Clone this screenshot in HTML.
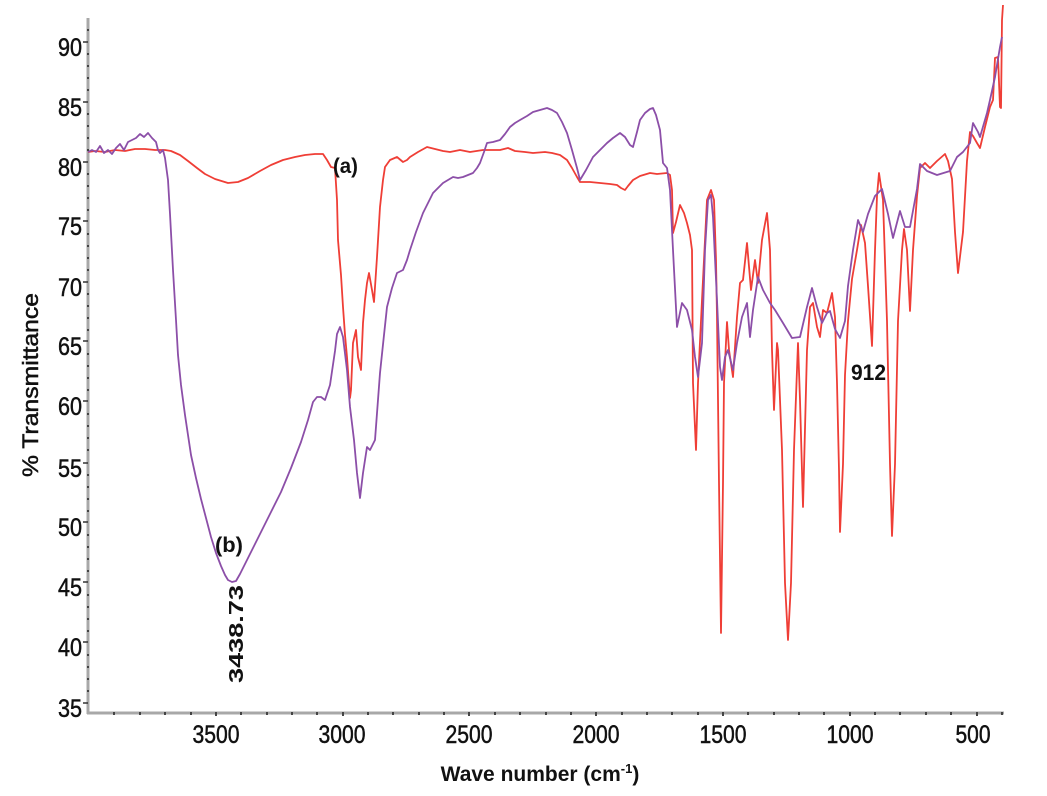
<!DOCTYPE html>
<html><head><meta charset="utf-8"><style>
html,body{margin:0;padding:0;background:#fff;}
svg{display:block;}
text{font-family:"Liberation Sans",Arial,sans-serif;fill:#111;}
.tk{stroke:#111;stroke-width:0.5;}
</style></head><body>
<svg width="1047" height="796" viewBox="0 0 1047 796" xmlns="http://www.w3.org/2000/svg">
<rect width="1047" height="796" fill="#fff"/>
<!-- axes -->
<line x1="88" y1="18" x2="88" y2="714" stroke="#a8a8a8" stroke-width="3"/>
<line x1="87" y1="713" x2="1004" y2="713" stroke="#a8a8a8" stroke-width="3"/>
<!-- y tick labels -->
<g font-size="25" text-anchor="end" class="tk">
<text x="82" y="56" textLength="24" lengthAdjust="spacingAndGlyphs">90</text>
<text x="82" y="116" textLength="24" lengthAdjust="spacingAndGlyphs">85</text>
<text x="82" y="176" textLength="24" lengthAdjust="spacingAndGlyphs">80</text>
<text x="82" y="235" textLength="24" lengthAdjust="spacingAndGlyphs">75</text>
<text x="82" y="296" textLength="24" lengthAdjust="spacingAndGlyphs">70</text>
<text x="82" y="355" textLength="24" lengthAdjust="spacingAndGlyphs">65</text>
<text x="82" y="415" textLength="24" lengthAdjust="spacingAndGlyphs">60</text>
<text x="82" y="477" textLength="24" lengthAdjust="spacingAndGlyphs">55</text>
<text x="82" y="536" textLength="24" lengthAdjust="spacingAndGlyphs">50</text>
<text x="82" y="596" textLength="24" lengthAdjust="spacingAndGlyphs">45</text>
<text x="82" y="656" textLength="24" lengthAdjust="spacingAndGlyphs">40</text>
<text x="82" y="717" textLength="24" lengthAdjust="spacingAndGlyphs">35</text>
</g>
<!-- x tick labels -->
<g font-size="25" text-anchor="middle" class="tk">
<text x="216" y="743" textLength="47" lengthAdjust="spacingAndGlyphs">3500</text>
<text x="342" y="743" textLength="47" lengthAdjust="spacingAndGlyphs">3000</text>
<text x="469" y="743" textLength="47" lengthAdjust="spacingAndGlyphs">2500</text>
<text x="596" y="743" textLength="47" lengthAdjust="spacingAndGlyphs">2000</text>
<text x="723" y="743" textLength="47" lengthAdjust="spacingAndGlyphs">1500</text>
<text x="850" y="743" textLength="47" lengthAdjust="spacingAndGlyphs">1000</text>
<text x="973" y="743" textLength="35" lengthAdjust="spacingAndGlyphs">500</text>
</g>
<!-- axis titles -->
<text x="540" y="781" font-size="21" font-weight="bold" text-anchor="middle" fill="#222">Wave number (cm<tspan font-size="13" dy="-8">-1</tspan><tspan dy="8">)</tspan></text>
<text transform="translate(38,385) rotate(-90)" font-size="22" text-anchor="middle" textLength="184" lengthAdjust="spacingAndGlyphs" class="tk">% Transmittance</text>

<!-- red series (a) -->
<polyline fill="none" stroke="#ef3e36" stroke-width="1.8" stroke-linejoin="round" points="88,152 95,151 105,152 115,150 125,151 135,149 145,149 155,150 165,150 171,151 180,155 188,161 197,168 205,174 215,179 228,183 238,182 248,178 260,171 271,165 283,160 295,157 305,155 315,154 323,154 327,160 331,167 335,168 337,200 338,240 341,275 343,307 345,335 347,357 349,385 350,398 351,390 353,343 356,330 358,357 361,370 363,323 365,300 367,283 369,273 372,290 374,302 377,257 380,207 383,180 385,167 390,160 397,157 403,162 407,160 410,157 418,152 427,147 435,149 443,151 450,152 460,150 470,152 483,150 490,150 500,150 508,148 515,151 525,152 533,153 545,152 552,153 560,155 567,160 572,168 577,177 580,182 590,182 600,183 610,184 617,185 621,188 625,190 628,186 633,180 640,176 650,173 657,174 667,173 670,175 672,190 673,233 676,222 680,205 684,213 687,223 690,235 692,250 693,383 696,450 698,383 702,300 705,240 707,200 711,190 714,200 716,260 717,317 719,483 721,633 723,483 724,383 727,322 729,350 733,377 737,317 740,283 743,280 747,243 751,290 755,260 758,283 762,240 767,213 770,250 772,350 774,410 777,343 778,350 782,450 785,583 788,640 791,583 794,450 798,343 800,400 803,507 807,350 810,307 813,303 817,327 820,337 823,310 827,313 832,293 835,317 837,383 839,470 840,532 843,464 845,375 848,321 852,279 857,250 861,225 865,243 868,286 872,346 875,250 877,196 879,173 883,200 887,321 890,464 892,536 895,464 898,321 902,250 904,229 907,250 910,311 913,250 917,196 920,168 925,163 930,168 937,161 945,154 948,161 952,179 955,232 958,273 963,232 967,161 970,132 973,136 977,143 980,148 985,127 990,107 993,100 995,58 998,57 1000,107 1001,108 1002,20 1003,5"/>

<!-- purple series (b) -->
<polyline fill="none" stroke="#8c4fa8" stroke-width="1.8" stroke-linejoin="round" points="88,152 92,150 96,152 100,146 104,153 108,150 112,154 116,148 120,144 124,150 128,142 132,140 136,138 140,134 144,137 148,133 152,138 156,142 158,150 160,153 163,150 165,158 168,180 170,214 173,270 176,320 178,355 181,385 185,415 188,435 191,455 196,478 201,499 206,518 211,537 216,553 221,566 225,575 228,580 232,582 236,581 240,574 245,564 252,550 261,532 271,512 281,492 291,468 301,442 308,420 313,402 317,397 321,397 325,400 330,385 335,351 337,334 340,327 343,337 347,370 350,407 354,440 357,473 360,498 363,473 367,447 370,450 375,440 380,373 384,335 387,307 392,288 397,273 403,270 407,260 410,250 416,232 423,213 428,203 433,193 438,188 443,183 448,180 453,177 458,178 463,177 468,175 473,173 477,168 480,163 484,152 487,143 493,142 500,140 505,134 510,127 515,123 520,120 527,116 533,112 540,110 547,108 552,110 557,113 562,122 567,133 572,150 577,168 580,180 586,170 593,157 600,150 607,143 613,138 620,133 625,137 630,145 633,147 637,132 640,120 645,113 650,109 653,108 656,115 660,130 663,163 667,168 670,190 673,250 677,327 682,303 687,310 692,330 695,357 698,377 702,343 705,250 708,200 711,195 713,217 717,300 720,367 722,380 725,357 728,350 733,370 737,343 742,317 747,303 750,337 753,310 758,277 763,290 770,303 775,310 783,323 792,338 800,337 807,307 812,288 817,307 822,323 827,313 830,311 835,329 840,338 845,321 848,286 853,250 858,220 863,232 868,214 875,196 882,189 888,214 893,238 900,211 905,227 910,227 917,189 920,164 927,171 937,175 950,171 957,157 963,152 970,143 973,123 978,132 980,137 987,113 990,100 995,77 1000,47 1002,37"/>

<!-- annotations -->
<text x="333" y="173" font-size="21" font-weight="bold" textLength="25" lengthAdjust="spacingAndGlyphs">(a)</text>
<text x="215" y="552" font-size="21" font-weight="bold" textLength="28" lengthAdjust="spacingAndGlyphs">(b)</text>
<text x="851" y="380" font-size="22" font-weight="bold" textLength="35" lengthAdjust="spacingAndGlyphs">912</text>
<text transform="translate(243,683) rotate(-90)" font-size="20" font-weight="bold" textLength="98" lengthAdjust="spacingAndGlyphs">3438.73</text>

<!-- ticks -->
<g stroke="#333" stroke-width="1.5">
<line x1="83" y1="42" x2="88" y2="42"/><line x1="83" y1="102" x2="88" y2="102"/><line x1="83" y1="162" x2="88" y2="162"/><line x1="83" y1="221" x2="88" y2="221"/><line x1="83" y1="282" x2="88" y2="282"/><line x1="83" y1="341" x2="88" y2="341"/><line x1="83" y1="401" x2="88" y2="401"/><line x1="83" y1="463" x2="88" y2="463"/><line x1="83" y1="522" x2="88" y2="522"/><line x1="83" y1="582" x2="88" y2="582"/><line x1="83" y1="642" x2="88" y2="642"/><line x1="83" y1="703" x2="88" y2="703"/>
</g>
<g fill="#444">
<rect x="87" y="29" width="2" height="2"/><rect x="87" y="53" width="2" height="2"/><rect x="87" y="65" width="2" height="2"/><rect x="87" y="77" width="2" height="2"/><rect x="87" y="89" width="2" height="2"/>
<rect x="87" y="113" width="2" height="2"/><rect x="87" y="125" width="2" height="2"/><rect x="87" y="137" width="2" height="2"/><rect x="87" y="149" width="2" height="2"/>
<rect x="87" y="173" width="2" height="2"/><rect x="87" y="185" width="2" height="2"/><rect x="87" y="197" width="2" height="2"/><rect x="87" y="209" width="2" height="2"/>
<rect x="87" y="233" width="2" height="2"/><rect x="87" y="245" width="2" height="2"/><rect x="87" y="257" width="2" height="2"/><rect x="87" y="269" width="2" height="2"/>
<rect x="87" y="293" width="2" height="2"/><rect x="87" y="305" width="2" height="2"/><rect x="87" y="317" width="2" height="2"/><rect x="87" y="329" width="2" height="2"/>
<rect x="87" y="353" width="2" height="2"/><rect x="87" y="365" width="2" height="2"/><rect x="87" y="377" width="2" height="2"/><rect x="87" y="389" width="2" height="2"/>
<rect x="87" y="413" width="2" height="2"/><rect x="87" y="425" width="2" height="2"/><rect x="87" y="437" width="2" height="2"/><rect x="87" y="449" width="2" height="2"/>
<rect x="87" y="474" width="2" height="2"/><rect x="87" y="486" width="2" height="2"/><rect x="87" y="498" width="2" height="2"/><rect x="87" y="510" width="2" height="2"/>
<rect x="87" y="534" width="2" height="2"/><rect x="87" y="546" width="2" height="2"/><rect x="87" y="558" width="2" height="2"/><rect x="87" y="570" width="2" height="2"/>
<rect x="87" y="594" width="2" height="2"/><rect x="87" y="606" width="2" height="2"/><rect x="87" y="618" width="2" height="2"/><rect x="87" y="630" width="2" height="2"/>
<rect x="87" y="654" width="2" height="2"/><rect x="87" y="666" width="2" height="2"/><rect x="87" y="678" width="2" height="2"/><rect x="87" y="690" width="2" height="2"/>
</g>
<g fill="#444">
<rect x="113" y="712" width="2" height="3"/><rect x="139" y="712" width="2" height="3"/><rect x="164" y="712" width="2" height="3"/><rect x="190" y="712" width="2" height="3"/><rect x="215" y="712" width="2" height="4"/>
<rect x="240" y="712" width="2" height="3"/><rect x="266" y="712" width="2" height="3"/><rect x="291" y="712" width="2" height="3"/><rect x="316" y="712" width="2" height="3"/><rect x="342" y="712" width="2" height="4"/>
<rect x="367" y="712" width="2" height="3"/><rect x="392" y="712" width="2" height="3"/><rect x="418" y="712" width="2" height="3"/><rect x="443" y="712" width="2" height="3"/><rect x="468" y="712" width="2" height="4"/>
<rect x="494" y="712" width="2" height="3"/><rect x="519" y="712" width="2" height="3"/><rect x="545" y="712" width="2" height="3"/><rect x="570" y="712" width="2" height="3"/><rect x="595" y="712" width="2" height="4"/>
<rect x="621" y="712" width="2" height="3"/><rect x="646" y="712" width="2" height="3"/><rect x="671" y="712" width="2" height="3"/><rect x="697" y="712" width="2" height="3"/><rect x="722" y="712" width="2" height="4"/>
<rect x="747" y="712" width="2" height="3"/><rect x="773" y="712" width="2" height="3"/><rect x="798" y="712" width="2" height="3"/><rect x="823" y="712" width="2" height="3"/><rect x="849" y="712" width="2" height="4"/>
<rect x="874" y="712" width="2" height="3"/><rect x="899" y="712" width="2" height="3"/><rect x="925" y="712" width="2" height="3"/><rect x="950" y="712" width="2" height="3"/><rect x="976" y="712" width="2" height="4"/>
<rect x="1001" y="712" width="2" height="3"/>
</g>
</svg>
</body></html>
